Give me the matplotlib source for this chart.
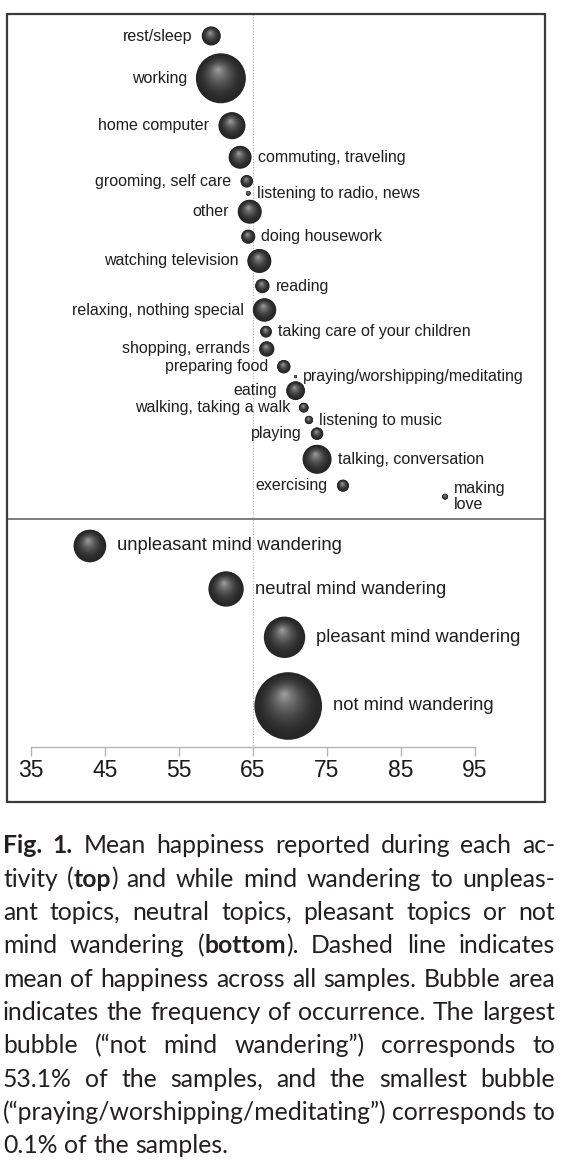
import numpy as np
import matplotlib
matplotlib.use("Agg")
import matplotlib.pyplot as plt
from matplotlib import font_manager
from matplotlib.patches import Rectangle
from matplotlib.transforms import IdentityTransform

# ---------------------------------------------
# data (happiness 0-100, frequency in % of samples)
# ---------------------------------------------
activities = ['rest/sleep', 'working', 'home computer', 'commuting, traveling',
              'grooming, self care', 'listening to radio, news', 'other',
              'doing housework', 'watching television', 'reading',
              'relaxing, nothing special', 'taking care of your children',
              'shopping, errands', 'preparing food',
              'praying/worshipping/meditating', 'eating',
              'walking, taking a walk', 'listening to music', 'playing',
              'talking, conversation', 'exercising', 'making\nlove']
activity_happiness = [59.4, 60.7, 62.2, 63.3, 64.2, 64.4, 64.6, 64.4, 65.9, 66.3,
                      66.6, 66.8, 66.9, 69.2, 70.8, 70.8, 71.9, 72.6, 73.7, 73.7,
                      77.2, 91.0]
activity_freq = [4.2, 29.0, 8.5, 6.1, 1.8, 0.25, 6.7, 2.3, 6.7, 2.4,
                 6.4, 1.6, 2.7, 2.1, 0.1, 4.1, 1.1, 0.8, 1.8, 9.8,
                 1.7, 0.4]
activity_side = ['L', 'L', 'L', 'R', 'L', 'R', 'L', 'R', 'L', 'R',
                 'L', 'R', 'L', 'L', 'R', 'L', 'L', 'R', 'L', 'R',
                 'L', 'R']

mw_labels = ['unpleasant mind wandering', 'neutral mind wandering',
             'pleasant mind wandering', 'not mind wandering']
mw_happiness = [43.0, 61.4, 69.3, 69.8]
mw_freq = [12.4, 14.5, 19.9, 53.1]

mean_happiness = 65
x_ticks = [35, 45, 55, 65, 75, 85, 95]

# layout: vertical row of each bubble (pixels from the top of the image)
activity_rows = [36, 78.3, 125.7, 157.3, 181.3, 193.3, 211.7, 236.7, 261, 286,
                 310, 331.7, 349, 366.7, 376.7, 390.7, 407.7, 420, 433.7, 459.3,
                 485.7, 496.7]
mw_rows = [546, 589, 637.3, 706]

caption_lines = [
    "**Fig.** **1.** Mean happiness reported during each ac-",
    "tivity (**top**) and while mind wandering to unpleas-",
    "ant topics, neutral topics, pleasant topics or not",
    "mind wandering (**bottom**). Dashed line indicates",
    "mean of happiness across all samples. Bubble area",
    "indicates the frequency of occurrence. The largest",
    "bubble (“not mind wandering”) corresponds to",
    "53.1% of the samples, and the smallest bubble",
    "(“praying/worshipping/meditating”) corresponds to",
    "0.1% of the samples.",
]

# ---------------------------------------------
# geometry
# ---------------------------------------------
W, H, DPI = 567, 1166, 100
FRAME_L, FRAME_R, FRAME_T, FRAME_B = 6.7, 545.3, 14, 802.3
X35_PX, PX_PER_UNIT = 30.7, 7.4
AXIS_Y, SEP_Y = 747.3, 519.3
R_MAX = 33.8           # radius (px) of the largest bubble
F_MAX = max(mw_freq)

fig = plt.figure(figsize=(W / DPI, H / DPI), dpi=DPI)
fig.patch.set_facecolor('white')

ax = fig.add_axes([FRAME_L / W, 1 - FRAME_B / H,
                   (FRAME_R - FRAME_L) / W, (FRAME_B - FRAME_T) / H])
ax.set_xlim(35 - (X35_PX - FRAME_L) / PX_PER_UNIT,
            35 + (FRAME_R - X35_PX) / PX_PER_UNIT)
ax.set_ylim(FRAME_B, FRAME_T)
ax.set_facecolor('white')

for s in ['top', 'left', 'right']:
    ax.spines[s].set_visible(False)
ax.spines['bottom'].set_position(('data', AXIS_Y))
ax.spines['bottom'].set_bounds(35, 95)
ax.spines['bottom'].set_color('#b4b4b4')
ax.spines['bottom'].set_linewidth(1.0)
ax.set_yticks([])
ax.set_xticks(x_ticks)
ax.set_xticklabels([str(t) for t in x_ticks], family='Liberation Sans',
                   fontsize=16.5, color='#1a1a1a')
ax.tick_params(axis='x', direction='out', length=6.5, width=1.0,
               color='#b4b4b4', pad=2)

# frame
ax.add_patch(Rectangle((0, 0), 1, 1, transform=ax.transAxes, fill=False,
                       edgecolor='#3a3a3a', linewidth=1.6, clip_on=False,
                       zorder=10))
ax.axhline(SEP_Y, color='#5a5a5a', linewidth=1.1, zorder=2)
ax.vlines(mean_happiness, FRAME_T, AXIS_Y, colors='#b0b0b0',
          linestyles=(0, (1, 1.5)), linewidth=0.8, zorder=1)


def radius(freq):
    return R_MAX * np.sqrt(np.array(freq) / F_MAX)


def draw_balls(xs, ys, freqs):
    xs = np.array(xs, dtype=float)
    ys = np.array(ys, dtype=float)
    r = radius(freqs)
    n = 26
    for i in range(n):
        t = 1 - 0.95 * i / (n - 1)
        cx = xs + (1 - t) * (-0.12 * r) / PX_PER_UNIT
        cy = ys + (1 - t) * (-0.36 * r)
        g = 0.15 + 0.50 * (1 - t) ** 1.8
        ax.scatter(cx, cy, s=(2 * r * t * 72 / DPI) ** 2, color=(g, g, g),
                   linewidths=0, zorder=3 + i * 0.01)
    return r


def draw_labels(xs, ys, r, labels, sides, size, gap_l, gap_r):
    for x, y, rr, lab, side in zip(xs, ys, r, labels, sides):
        if side == 'L':
            off, ha = -(rr + gap_l), 'right'
        else:
            off, ha = rr + gap_r, 'left'
        ax.annotate(lab, xy=(x, y), xytext=(off * 72 / DPI, 0),
                    textcoords='offset points', ha=ha, va='center',
                    fontsize=size, family='Liberation Sans', color='#1e1e1e',
                    linespacing=1.1, zorder=5)


r_act = draw_balls(activity_happiness, activity_rows, activity_freq)
draw_labels(activity_happiness, activity_rows, r_act, activities,
            activity_side, 11.5, 9, 6)

r_mw = draw_balls(mw_happiness, mw_rows, mw_freq)
draw_labels(mw_happiness, mw_rows, r_mw, mw_labels, ['R'] * 4, 13.2, 9, 11)

# ---------------------------------------------
# caption (justified)
# ---------------------------------------------
names = {f.name for f in font_manager.fontManager.ttflist}
cap_family = 'DejaVu Sans'
for cand in ['Lato', 'Roboto Condensed', 'Liberation Sans Narrow',
             'Open Sans']:
    if cand in names:
        cap_family = cand
        break

renderer = fig.canvas.get_renderer()


def text_width(s, bold, size):
    t = fig.text(0, 0, s, fontsize=size, family=cap_family,
                 weight='bold' if bold else 'normal')
    w = t.get_window_extent(renderer).width
    t.remove()
    return w


# split caption into words made of (text, bold) runs
words_per_line = []
bold = False
for line in caption_lines:
    words = []
    for raw in line.split(' '):
        runs = []
        for j, p in enumerate(raw.split('**')):
            if j > 0:
                bold = not bold
            if p:
                runs.append((p, bold))
        words.append(runs)
    words_per_line.append(words)

CAP_L, CAP_R = 3, 555
cap_size = 18.0


def natural_width(words, size):
    sp = text_width('a a', False, size) - text_width('aa', False, size)
    ww = sum(text_width(p, b, size) for w in words for p, b in w)
    return ww + sp * (len(words) - 1)


# fit the font so the tightest line fills the column with normal spaces
widest = max(natural_width(w, cap_size) for w in words_per_line[:-1])
cap_size *= (CAP_R - CAP_L) / widest

space_w = text_width('a a', False, cap_size) - text_width('aa', False, cap_size)
BASE0, LINE_STEP = 853.3, 33.33

for k, words in enumerate(words_per_line):
    widths = [[text_width(p, b, cap_size) for p, b in w] for w in words]
    total = sum(sum(w) for w in widths)
    last = k == len(words_per_line) - 1
    gap = space_w if last else (CAP_R - CAP_L - total) / (len(words) - 1)
    y = H - (BASE0 + LINE_STEP * k)
    x = CAP_L
    for w, ws in zip(words, widths):
        for (p, b), pw in zip(w, ws):
            fig.text(x, y, p, transform=IdentityTransform(), ha='left',
                     va='baseline', fontsize=cap_size, family=cap_family,
                     weight='bold' if b else 'normal', color='#231f20')
            x += pw
        x += gap

fig.savefig('out.png', dpi=DPI)
